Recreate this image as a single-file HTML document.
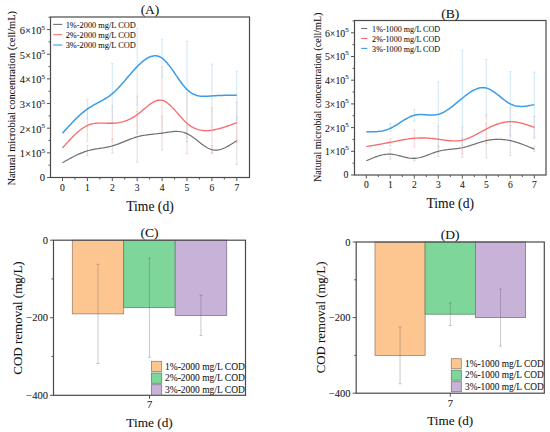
<!DOCTYPE html>
<html><head><meta charset="utf-8"><style>
html,body{margin:0;padding:0;background:#fff;width:550px;height:432px;overflow:hidden}
svg{display:block;font-family:'Liberation Serif',serif} text{stroke:#111;stroke-width:0.08px}
</style></head><body>
<svg width="550" height="432" viewBox="0 0 550 432">
<path d="M87.40,145.45V156.05M86.20,145.45h2.4M86.20,156.05h2.4" stroke="#cfcfcf" stroke-width="0.7" fill="none"/>
<path d="M112.30,138.55V153.10M111.10,138.55h2.4M111.10,153.10h2.4" stroke="#cfcfcf" stroke-width="0.7" fill="none"/>
<path d="M137.20,111.44V162.22M136.00,111.44h2.4M136.00,162.22h2.4" stroke="#cfcfcf" stroke-width="0.7" fill="none"/>
<path d="M162.10,116.37V149.89M160.90,116.37h2.4M160.90,149.89h2.4" stroke="#cfcfcf" stroke-width="0.7" fill="none"/>
<path d="M187.00,125.73V141.51M185.80,125.73h2.4M185.80,141.51h2.4" stroke="#cfcfcf" stroke-width="0.7" fill="none"/>
<path d="M211.90,145.45V153.84M210.70,145.45h2.4M210.70,153.84h2.4" stroke="#cfcfcf" stroke-width="0.7" fill="none"/>
<path d="M236.80,116.61V164.44M235.60,116.61h2.4M235.60,164.44h2.4" stroke="#cfcfcf" stroke-width="0.7" fill="none"/>
<path d="M87.40,109.71V141.26M86.20,109.71h2.4M86.20,141.26h2.4" stroke="#f9c0c0" stroke-width="0.7" fill="none"/>
<path d="M112.30,106.02V140.53M111.10,106.02h2.4M111.10,140.53h2.4" stroke="#f9c0c0" stroke-width="0.7" fill="none"/>
<path d="M137.20,96.16V133.13M136.00,96.16h2.4M136.00,133.13h2.4" stroke="#f9c0c0" stroke-width="0.7" fill="none"/>
<path d="M162.10,66.82V133.87M160.90,66.82h2.4M160.90,133.87h2.4" stroke="#f9c0c0" stroke-width="0.7" fill="none"/>
<path d="M187.00,92.95V153.59M185.80,92.95h2.4M185.80,153.59h2.4" stroke="#f9c0c0" stroke-width="0.7" fill="none"/>
<path d="M211.90,107.74V152.60M210.70,107.74h2.4M210.70,152.60h2.4" stroke="#f9c0c0" stroke-width="0.7" fill="none"/>
<path d="M236.80,102.32V142.74M235.60,102.32h2.4M235.60,142.74h2.4" stroke="#f9c0c0" stroke-width="0.7" fill="none"/>
<path d="M87.40,99.11V118.59M86.20,99.11h2.4M86.20,118.59h2.4" stroke="#bcdcf7" stroke-width="0.7" fill="none"/>
<path d="M112.30,63.37V122.53M111.10,63.37h2.4M111.10,122.53h2.4" stroke="#bcdcf7" stroke-width="0.7" fill="none"/>
<path d="M137.20,28.37V104.78M136.00,28.37h2.4M136.00,104.78h2.4" stroke="#bcdcf7" stroke-width="0.7" fill="none"/>
<path d="M162.10,39.21V76.93M160.90,39.21h2.4M160.90,76.93h2.4" stroke="#bcdcf7" stroke-width="0.7" fill="none"/>
<path d="M187.00,41.19V137.81M185.80,41.19h2.4M185.80,137.81h2.4" stroke="#bcdcf7" stroke-width="0.7" fill="none"/>
<path d="M211.90,64.11V127.71M210.70,64.11h2.4M210.70,127.71h2.4" stroke="#bcdcf7" stroke-width="0.7" fill="none"/>
<path d="M236.80,71.26V119.08M235.60,71.26h2.4M235.60,119.08h2.4" stroke="#bcdcf7" stroke-width="0.7" fill="none"/>
<path d="M62.50,162.71 L63.74,162.01 L64.99,161.30 L66.23,160.60 L67.48,159.91 L68.72,159.22 L69.97,158.54 L71.22,157.87 L72.46,157.22 L73.70,156.57 L74.95,155.95 L76.20,155.33 L77.44,154.74 L78.69,154.17 L79.93,153.62 L81.18,153.09 L82.42,152.59 L83.67,152.12 L84.91,151.67 L86.16,151.26 L87.40,150.88 L88.65,150.53 L89.89,150.21 L91.14,149.92 L92.38,149.65 L93.62,149.41 L94.87,149.18 L96.12,148.96 L97.36,148.76 L98.61,148.56 L99.85,148.37 L101.09,148.18 L102.34,147.99 L103.59,147.79 L104.83,147.58 L106.08,147.36 L107.32,147.12 L108.56,146.86 L109.81,146.58 L111.06,146.28 L112.30,145.95 L113.55,145.58 L114.79,145.19 L116.03,144.77 L117.28,144.33 L118.52,143.87 L119.77,143.39 L121.02,142.90 L122.26,142.40 L123.50,141.90 L124.75,141.39 L125.99,140.88 L127.24,140.37 L128.48,139.87 L129.73,139.38 L130.97,138.91 L132.22,138.45 L133.47,138.00 L134.71,137.59 L135.95,137.19 L137.20,136.83 L138.44,136.49 L139.69,136.19 L140.94,135.91 L142.18,135.66 L143.42,135.44 L144.67,135.23 L145.91,135.04 L147.16,134.86 L148.41,134.70 L149.65,134.55 L150.89,134.41 L152.14,134.28 L153.38,134.14 L154.63,134.01 L155.88,133.88 L157.12,133.75 L158.37,133.61 L159.61,133.46 L160.85,133.30 L162.10,133.13 L163.34,132.94 L164.59,132.75 L165.84,132.55 L167.08,132.35 L168.32,132.16 L169.57,131.98 L170.81,131.81 L172.06,131.67 L173.31,131.56 L174.55,131.47 L175.79,131.43 L177.04,131.43 L178.28,131.48 L179.53,131.58 L180.78,131.74 L182.02,131.97 L183.26,132.26 L184.51,132.63 L185.75,133.08 L187.00,133.62 L188.25,134.25 L189.49,134.96 L190.73,135.74 L191.98,136.57 L193.22,137.46 L194.47,138.39 L195.72,139.34 L196.96,140.32 L198.20,141.30 L199.45,142.28 L200.69,143.25 L201.94,144.19 L203.18,145.10 L204.43,145.96 L205.67,146.78 L206.92,147.52 L208.16,148.19 L209.41,148.78 L210.65,149.26 L211.90,149.65 L213.21,149.92 L214.52,150.08 L215.83,150.12 L217.14,150.05 L218.45,149.87 L219.76,149.61 L221.07,149.25 L222.38,148.81 L223.69,148.30 L225.01,147.71 L226.32,147.07 L227.63,146.37 L228.94,145.62 L230.25,144.84 L231.56,144.02 L232.87,143.17 L234.18,142.30 L235.49,141.41 L236.80,140.52" stroke="#707070" stroke-width="1.2" fill="none" stroke-linejoin="round"/>
<path d="M62.50,147.92 L63.74,146.52 L64.99,145.13 L66.23,143.74 L67.48,142.37 L68.72,141.01 L69.97,139.67 L71.22,138.36 L72.46,137.08 L73.70,135.83 L74.95,134.62 L76.20,133.45 L77.44,132.33 L78.69,131.25 L79.93,130.23 L81.18,129.27 L82.42,128.37 L83.67,127.54 L84.91,126.78 L86.16,126.10 L87.40,125.49 L88.65,124.96 L89.89,124.52 L91.14,124.14 L92.38,123.83 L93.62,123.58 L94.87,123.39 L96.12,123.25 L97.36,123.15 L98.61,123.08 L99.85,123.05 L101.09,123.05 L102.34,123.07 L103.59,123.10 L104.83,123.14 L106.08,123.18 L107.32,123.23 L108.56,123.26 L109.81,123.29 L111.06,123.29 L112.30,123.27 L113.55,123.22 L114.79,123.14 L116.03,123.02 L117.28,122.87 L118.52,122.69 L119.77,122.46 L121.02,122.20 L122.26,121.90 L123.50,121.56 L124.75,121.17 L125.99,120.74 L127.24,120.26 L128.48,119.74 L129.73,119.17 L130.97,118.55 L132.22,117.88 L133.47,117.15 L134.71,116.37 L135.95,115.53 L137.20,114.64 L138.44,113.69 L139.69,112.70 L140.94,111.67 L142.18,110.62 L143.42,109.56 L144.67,108.49 L145.91,107.44 L147.16,106.42 L148.41,105.43 L149.65,104.49 L150.89,103.61 L152.14,102.80 L153.38,102.08 L154.63,101.45 L155.88,100.93 L157.12,100.53 L158.37,100.25 L159.61,100.13 L160.85,100.15 L162.10,100.35 L163.34,100.71 L164.59,101.24 L165.84,101.93 L167.08,102.75 L168.32,103.69 L169.57,104.74 L170.81,105.89 L172.06,107.12 L173.31,108.42 L174.55,109.78 L175.79,111.17 L177.04,112.59 L178.28,114.02 L179.53,115.46 L180.78,116.88 L182.02,118.27 L183.26,119.61 L184.51,120.91 L185.75,122.13 L187.00,123.27 L188.25,124.32 L189.49,125.27 L190.73,126.13 L191.98,126.90 L193.22,127.59 L194.47,128.20 L195.72,128.74 L196.96,129.20 L198.20,129.58 L199.45,129.91 L200.69,130.16 L201.94,130.36 L203.18,130.50 L204.43,130.59 L205.67,130.63 L206.92,130.62 L208.16,130.56 L209.41,130.47 L210.65,130.34 L211.90,130.17 L213.21,129.97 L214.52,129.73 L215.83,129.46 L217.14,129.16 L218.45,128.84 L219.76,128.49 L221.07,128.12 L222.38,127.73 L223.69,127.32 L225.01,126.89 L226.32,126.45 L227.63,125.99 L228.94,125.52 L230.25,125.04 L231.56,124.55 L232.87,124.05 L234.18,123.54 L235.49,123.04 L236.80,122.53" stroke="#f76d6d" stroke-width="1.35" fill="none" stroke-linejoin="round"/>
<path d="M62.50,133.13 L63.74,131.75 L64.99,130.38 L66.23,129.02 L67.48,127.66 L68.72,126.31 L69.97,124.97 L71.22,123.65 L72.46,122.34 L73.70,121.06 L74.95,119.79 L76.20,118.56 L77.44,117.35 L78.69,116.17 L79.93,115.02 L81.18,113.91 L82.42,112.84 L83.67,111.81 L84.91,110.82 L86.16,109.87 L87.40,108.97 L88.65,108.12 L89.89,107.32 L91.14,106.55 L92.38,105.82 L93.62,105.11 L94.87,104.43 L96.12,103.76 L97.36,103.10 L98.61,102.44 L99.85,101.77 L101.09,101.10 L102.34,100.42 L103.59,99.71 L104.83,98.98 L106.08,98.21 L107.32,97.41 L108.56,96.56 L109.81,95.66 L111.06,94.71 L112.30,93.69 L113.55,92.61 L114.79,91.46 L116.03,90.26 L117.28,89.01 L118.52,87.71 L119.77,86.37 L121.02,85.00 L122.26,83.60 L123.50,82.17 L124.75,80.73 L125.99,79.27 L127.24,77.81 L128.48,76.35 L129.73,74.90 L130.97,73.45 L132.22,72.02 L133.47,70.61 L134.71,69.23 L135.95,67.88 L137.20,66.58 L138.44,65.31 L139.69,64.10 L140.94,62.94 L142.18,61.84 L143.42,60.82 L144.67,59.87 L145.91,59.01 L147.16,58.23 L148.41,57.55 L149.65,56.97 L150.89,56.50 L152.14,56.14 L153.38,55.91 L154.63,55.80 L155.88,55.83 L157.12,56.00 L158.37,56.31 L159.61,56.78 L160.85,57.40 L162.10,58.19 L163.34,59.15 L164.59,60.27 L165.84,61.53 L167.08,62.92 L168.32,64.41 L169.57,66.00 L170.81,67.67 L172.06,69.40 L173.31,71.18 L174.55,73.00 L175.79,74.83 L177.04,76.66 L178.28,78.48 L179.53,80.26 L180.78,82.01 L182.02,83.69 L183.26,85.30 L184.51,86.81 L185.75,88.22 L187.00,89.50 L188.25,90.65 L189.49,91.67 L190.73,92.56 L191.98,93.34 L193.22,94.01 L194.47,94.57 L195.72,95.05 L196.96,95.43 L198.20,95.74 L199.45,95.97 L200.69,96.14 L201.94,96.25 L203.18,96.30 L204.43,96.32 L205.67,96.30 L206.92,96.25 L208.16,96.18 L209.41,96.09 L210.65,96.00 L211.90,95.91 L213.21,95.82 L214.52,95.74 L215.83,95.66 L217.14,95.60 L218.45,95.54 L219.76,95.49 L221.07,95.44 L222.38,95.40 L223.69,95.36 L225.01,95.33 L226.32,95.30 L227.63,95.28 L228.94,95.25 L230.25,95.24 L231.56,95.22 L232.87,95.21 L234.18,95.19 L235.49,95.18 L236.80,95.17" stroke="#3d9ce8" stroke-width="1.5" fill="none" stroke-linejoin="round"/>
<rect x="50.5" y="17" width="199.0" height="160.5" fill="none" stroke="#4a4a4a" stroke-width="1.2"/>
<path d="M62.50,177.5v3.5M74.95,177.5v2M87.40,177.5v3.5M99.85,177.5v2M112.30,177.5v3.5M124.75,177.5v2M137.20,177.5v3.5M149.65,177.5v2M162.10,177.5v3.5M174.55,177.5v2M187.00,177.5v3.5M199.45,177.5v2M211.90,177.5v3.5M224.35,177.5v2M236.80,177.5v3.5M50.5,177.50h-3.5M50.5,165.18h-2M50.5,152.85h-3.5M50.5,140.53h-2M50.5,128.20h-3.5M50.5,115.88h-2M50.5,103.55h-3.5M50.5,91.23h-2M50.5,78.90h-3.5M50.5,66.58h-2M50.5,54.25h-3.5M50.5,41.93h-2M50.5,29.60h-3.5M50.5,17.28h-2" stroke="#555" stroke-width="1.0" fill="none"/>
<text x="62.50" y="190.8" font-size="9.6" text-anchor="middle" fill="#222">0</text>
<text x="87.40" y="190.8" font-size="9.6" text-anchor="middle" fill="#222">1</text>
<text x="112.30" y="190.8" font-size="9.6" text-anchor="middle" fill="#222">2</text>
<text x="137.20" y="190.8" font-size="9.6" text-anchor="middle" fill="#222">3</text>
<text x="162.10" y="190.8" font-size="9.6" text-anchor="middle" fill="#222">4</text>
<text x="187.00" y="190.8" font-size="9.6" text-anchor="middle" fill="#222">5</text>
<text x="211.90" y="190.8" font-size="9.6" text-anchor="middle" fill="#222">6</text>
<text x="236.80" y="190.8" font-size="9.6" text-anchor="middle" fill="#222">7</text>
<text x="44.9" y="180.80" font-size="10.5" text-anchor="end" fill="#222">0</text>
<text x="45" y="157.35" font-size="10.5" text-anchor="end" fill="#222">1×10<tspan font-size="7" dy="-4.3">5</tspan></text>
<text x="45" y="132.70" font-size="10.5" text-anchor="end" fill="#222">2×10<tspan font-size="7" dy="-4.3">5</tspan></text>
<text x="45" y="108.05" font-size="10.5" text-anchor="end" fill="#222">3×10<tspan font-size="7" dy="-4.3">5</tspan></text>
<text x="45" y="83.40" font-size="10.5" text-anchor="end" fill="#222">4×10<tspan font-size="7" dy="-4.3">5</tspan></text>
<text x="45" y="58.75" font-size="10.5" text-anchor="end" fill="#222">5×10<tspan font-size="7" dy="-4.3">5</tspan></text>
<text x="45" y="34.10" font-size="10.5" text-anchor="end" fill="#222">6×10<tspan font-size="7" dy="-4.3">5</tspan></text>
<text x="150.00" y="210.7" font-size="13.6" text-anchor="middle" fill="#111">Time (d)</text>
<text transform="translate(14.6,98.3) rotate(-90)" font-size="10.4" text-anchor="middle" fill="#111">Natural microbial concentration (cell/mL)</text>
<text x="150.00" y="14.1" font-size="13.5" text-anchor="middle" fill="#111">(A)</text>
<path d="M53.2,24.40H62.3" stroke="#707070" stroke-width="1.1"/>
<text x="65.7" y="27.66" font-size="8.35" fill="#222">1%-2000 mg/L COD</text>
<path d="M53.2,34.70H62.3" stroke="#f76d6d" stroke-width="1.1"/>
<text x="65.7" y="37.96" font-size="8.35" fill="#222">2%-2000 mg/L COD</text>
<path d="M53.2,45.00H62.3" stroke="#3d9ce8" stroke-width="1.1"/>
<text x="65.7" y="48.26" font-size="8.35" fill="#222">3%-2000 mg/L COD</text>
<path d="M390.30,149.40V159.12M389.10,149.40h2.4M389.10,159.12h2.4" stroke="#cfcfcf" stroke-width="0.7" fill="none"/>
<path d="M414.30,157.46V160.78M413.10,157.46h2.4M413.10,160.78h2.4" stroke="#cfcfcf" stroke-width="0.7" fill="none"/>
<path d="M438.30,146.09V156.51M437.10,146.09h2.4M437.10,156.51h2.4" stroke="#cfcfcf" stroke-width="0.7" fill="none"/>
<path d="M462.30,138.26V157.22M461.10,138.26h2.4M461.10,157.22h2.4" stroke="#cfcfcf" stroke-width="0.7" fill="none"/>
<path d="M486.30,123.57V157.70M485.10,123.57h2.4M485.10,157.70h2.4" stroke="#cfcfcf" stroke-width="0.7" fill="none"/>
<path d="M510.30,125.70V155.57M509.10,125.70h2.4M509.10,155.57h2.4" stroke="#cfcfcf" stroke-width="0.7" fill="none"/>
<path d="M534.30,146.80V151.30M533.10,146.80h2.4M533.10,151.30h2.4" stroke="#cfcfcf" stroke-width="0.7" fill="none"/>
<path d="M390.30,138.98V145.85M389.10,138.98h2.4M389.10,145.85h2.4" stroke="#f9c0c0" stroke-width="0.7" fill="none"/>
<path d="M414.30,129.97V147.03M413.10,129.97h2.4M413.10,147.03h2.4" stroke="#f9c0c0" stroke-width="0.7" fill="none"/>
<path d="M438.30,126.65V151.77M437.10,126.65h2.4M437.10,151.77h2.4" stroke="#f9c0c0" stroke-width="0.7" fill="none"/>
<path d="M462.30,126.89V153.43M461.10,126.89h2.4M461.10,153.43h2.4" stroke="#f9c0c0" stroke-width="0.7" fill="none"/>
<path d="M486.30,114.56V143.48M485.10,114.56h2.4M485.10,143.48h2.4" stroke="#f9c0c0" stroke-width="0.7" fill="none"/>
<path d="M510.30,108.17V135.18M509.10,108.17h2.4M509.10,135.18h2.4" stroke="#f9c0c0" stroke-width="0.7" fill="none"/>
<path d="M534.30,116.46V138.26M533.10,116.46h2.4M533.10,138.26h2.4" stroke="#f9c0c0" stroke-width="0.7" fill="none"/>
<path d="M390.30,123.57V131.39M389.10,123.57h2.4M389.10,131.39h2.4" stroke="#bcdcf7" stroke-width="0.7" fill="none"/>
<path d="M414.30,109.35V121.20M413.10,109.35h2.4M413.10,121.20h2.4" stroke="#bcdcf7" stroke-width="0.7" fill="none"/>
<path d="M438.30,82.10V146.56M437.10,82.10h2.4M437.10,146.56h2.4" stroke="#bcdcf7" stroke-width="0.7" fill="none"/>
<path d="M462.30,50.58V145.85M461.10,50.58h2.4M461.10,145.85h2.4" stroke="#bcdcf7" stroke-width="0.7" fill="none"/>
<path d="M486.30,59.34V116.70M485.10,59.34h2.4M485.10,116.70h2.4" stroke="#bcdcf7" stroke-width="0.7" fill="none"/>
<path d="M510.30,71.67V136.13M509.10,71.67h2.4M509.10,136.13h2.4" stroke="#bcdcf7" stroke-width="0.7" fill="none"/>
<path d="M534.30,72.14V137.08M533.10,72.14h2.4M533.10,137.08h2.4" stroke="#bcdcf7" stroke-width="0.7" fill="none"/>
<path d="M366.30,160.78 L367.50,160.26 L368.70,159.74 L369.90,159.22 L371.10,158.72 L372.30,158.22 L373.50,157.74 L374.70,157.28 L375.90,156.84 L377.10,156.42 L378.30,156.03 L379.50,155.66 L380.70,155.33 L381.90,155.03 L383.10,154.77 L384.30,154.55 L385.50,154.37 L386.70,154.24 L387.90,154.15 L389.10,154.12 L390.30,154.14 L391.50,154.22 L392.70,154.35 L393.90,154.53 L395.10,154.74 L396.30,154.99 L397.50,155.26 L398.70,155.56 L399.90,155.87 L401.10,156.18 L402.30,156.50 L403.50,156.81 L404.70,157.12 L405.90,157.40 L407.10,157.66 L408.30,157.90 L409.50,158.10 L410.70,158.25 L411.90,158.36 L413.10,158.42 L414.30,158.41 L415.50,158.34 L416.70,158.21 L417.90,158.02 L419.10,157.78 L420.30,157.50 L421.50,157.18 L422.70,156.82 L423.90,156.43 L425.10,156.01 L426.30,155.58 L427.50,155.13 L428.70,154.67 L429.90,154.21 L431.10,153.75 L432.30,153.30 L433.50,152.85 L434.70,152.43 L435.90,152.02 L437.10,151.65 L438.30,151.30 L439.50,150.99 L440.70,150.71 L441.90,150.47 L443.10,150.25 L444.30,150.06 L445.50,149.88 L446.70,149.73 L447.90,149.59 L449.10,149.45 L450.30,149.33 L451.50,149.21 L452.70,149.09 L453.90,148.97 L455.10,148.84 L456.30,148.70 L457.50,148.55 L458.70,148.38 L459.90,148.19 L461.10,147.98 L462.30,147.75 L463.50,147.48 L464.70,147.19 L465.90,146.87 L467.10,146.54 L468.30,146.18 L469.50,145.81 L470.70,145.43 L471.90,145.04 L473.10,144.64 L474.30,144.24 L475.50,143.83 L476.70,143.43 L477.90,143.03 L479.10,142.65 L480.30,142.27 L481.50,141.90 L482.70,141.55 L483.90,141.22 L485.10,140.92 L486.30,140.63 L487.50,140.38 L488.70,140.15 L489.90,139.95 L491.10,139.78 L492.30,139.64 L493.50,139.52 L494.70,139.43 L495.90,139.36 L497.10,139.32 L498.30,139.31 L499.50,139.33 L500.70,139.37 L501.90,139.44 L503.10,139.53 L504.30,139.65 L505.50,139.80 L506.70,139.97 L507.90,140.17 L509.10,140.39 L510.30,140.63 L511.56,140.92 L512.83,141.24 L514.09,141.57 L515.35,141.93 L516.62,142.32 L517.88,142.72 L519.14,143.14 L520.41,143.58 L521.67,144.04 L522.93,144.51 L524.19,145.00 L525.46,145.49 L526.72,146.00 L527.98,146.51 L529.25,147.03 L530.51,147.56 L531.77,148.10 L533.04,148.63 L534.30,149.17" stroke="#707070" stroke-width="1.2" fill="none" stroke-linejoin="round"/>
<path d="M366.30,146.56 L367.50,146.36 L368.70,146.16 L369.90,145.95 L371.10,145.75 L372.30,145.55 L373.50,145.34 L374.70,145.14 L375.90,144.93 L377.10,144.72 L378.30,144.51 L379.50,144.30 L380.70,144.09 L381.90,143.87 L383.10,143.66 L384.30,143.44 L385.50,143.21 L386.70,142.99 L387.90,142.76 L389.10,142.53 L390.30,142.29 L391.50,142.06 L392.70,141.82 L393.90,141.57 L395.10,141.33 L396.30,141.09 L397.50,140.85 L398.70,140.61 L399.90,140.38 L401.10,140.15 L402.30,139.93 L403.50,139.72 L404.70,139.51 L405.90,139.31 L407.10,139.12 L408.30,138.95 L409.50,138.78 L410.70,138.63 L411.90,138.49 L413.10,138.37 L414.30,138.26 L415.50,138.18 L416.70,138.11 L417.90,138.05 L419.10,138.01 L420.30,137.99 L421.50,137.98 L422.70,137.99 L423.90,138.01 L425.10,138.04 L426.30,138.09 L427.50,138.15 L428.70,138.23 L429.90,138.31 L431.10,138.41 L432.30,138.52 L433.50,138.64 L434.70,138.77 L435.90,138.91 L437.10,139.06 L438.30,139.21 L439.50,139.38 L440.70,139.55 L441.90,139.72 L443.10,139.90 L444.30,140.07 L445.50,140.23 L446.70,140.38 L447.90,140.53 L449.10,140.65 L450.30,140.76 L451.50,140.85 L452.70,140.91 L453.90,140.94 L455.10,140.95 L456.30,140.92 L457.50,140.85 L458.70,140.74 L459.90,140.60 L461.10,140.40 L462.30,140.16 L463.50,139.87 L464.70,139.53 L465.90,139.14 L467.10,138.72 L468.30,138.25 L469.50,137.75 L470.70,137.22 L471.90,136.67 L473.10,136.08 L474.30,135.48 L475.50,134.86 L476.70,134.22 L477.90,133.58 L479.10,132.92 L480.30,132.26 L481.50,131.60 L482.70,130.95 L483.90,130.29 L485.10,129.65 L486.30,129.02 L487.50,128.41 L488.70,127.81 L489.90,127.23 L491.10,126.67 L492.30,126.14 L493.50,125.62 L494.70,125.13 L495.90,124.67 L497.10,124.24 L498.30,123.83 L499.50,123.45 L500.70,123.11 L501.90,122.80 L503.10,122.52 L504.30,122.28 L505.50,122.08 L506.70,121.92 L507.90,121.79 L509.10,121.71 L510.30,121.68 L511.56,121.68 L512.83,121.74 L514.09,121.84 L515.35,121.98 L516.62,122.16 L517.88,122.38 L519.14,122.63 L520.41,122.92 L521.67,123.23 L522.93,123.57 L524.19,123.93 L525.46,124.31 L526.72,124.72 L527.98,125.13 L529.25,125.56 L530.51,126.00 L531.77,126.45 L533.04,126.91 L534.30,127.36" stroke="#f76d6d" stroke-width="1.35" fill="none" stroke-linejoin="round"/>
<path d="M366.30,131.87 L367.50,131.87 L368.70,131.88 L369.90,131.87 L371.10,131.86 L372.30,131.84 L373.50,131.81 L374.70,131.75 L375.90,131.68 L377.10,131.59 L378.30,131.47 L379.50,131.33 L380.70,131.15 L381.90,130.94 L383.10,130.69 L384.30,130.41 L385.50,130.08 L386.70,129.71 L387.90,129.30 L389.10,128.83 L390.30,128.31 L391.50,127.74 L392.70,127.12 L393.90,126.45 L395.10,125.75 L396.30,125.03 L397.50,124.28 L398.70,123.51 L399.90,122.74 L401.10,121.97 L402.30,121.20 L403.50,120.44 L404.70,119.70 L405.90,118.99 L407.10,118.31 L408.30,117.67 L409.50,117.07 L410.70,116.53 L411.90,116.04 L413.10,115.62 L414.30,115.28 L415.50,115.01 L416.70,114.81 L417.90,114.67 L419.10,114.59 L420.30,114.56 L421.50,114.56 L422.70,114.60 L423.90,114.66 L425.10,114.74 L426.30,114.82 L427.50,114.91 L428.70,114.98 L429.90,115.04 L431.10,115.08 L432.30,115.08 L433.50,115.04 L434.70,114.95 L435.90,114.81 L437.10,114.61 L438.30,114.33 L439.50,113.97 L440.70,113.54 L441.90,113.04 L443.10,112.47 L444.30,111.84 L445.50,111.16 L446.70,110.42 L447.90,109.63 L449.10,108.80 L450.30,107.94 L451.50,107.04 L452.70,106.11 L453.90,105.16 L455.10,104.19 L456.30,103.20 L457.50,102.20 L458.70,101.20 L459.90,100.20 L461.10,99.20 L462.30,98.21 L463.50,97.24 L464.70,96.28 L465.90,95.34 L467.10,94.44 L468.30,93.56 L469.50,92.73 L470.70,91.94 L471.90,91.20 L473.10,90.51 L474.30,89.89 L475.50,89.33 L476.70,88.83 L477.90,88.42 L479.10,88.08 L480.30,87.83 L481.50,87.66 L482.70,87.60 L483.90,87.63 L485.10,87.77 L486.30,88.02 L487.50,88.38 L488.70,88.85 L489.90,89.42 L491.10,90.07 L492.30,90.80 L493.50,91.59 L494.70,92.44 L495.90,93.33 L497.10,94.26 L498.30,95.21 L499.50,96.18 L500.70,97.15 L501.90,98.12 L503.10,99.07 L504.30,100.00 L505.50,100.89 L506.70,101.74 L507.90,102.53 L509.10,103.25 L510.30,103.90 L511.56,104.49 L512.83,105.00 L514.09,105.41 L515.35,105.75 L516.62,106.01 L517.88,106.21 L519.14,106.34 L520.41,106.40 L521.67,106.41 L522.93,106.38 L524.19,106.29 L525.46,106.17 L526.72,106.01 L527.98,105.83 L529.25,105.61 L530.51,105.38 L531.77,105.13 L533.04,104.87 L534.30,104.61" stroke="#3d9ce8" stroke-width="1.5" fill="none" stroke-linejoin="round"/>
<rect x="354.5" y="20.5" width="191.5" height="154.5" fill="none" stroke="#4a4a4a" stroke-width="1.2"/>
<path d="M366.30,175v3.5M378.30,175v2M390.30,175v3.5M402.30,175v2M414.30,175v3.5M426.30,175v2M438.30,175v3.5M450.30,175v2M462.30,175v3.5M474.30,175v2M486.30,175v3.5M498.30,175v2M510.30,175v3.5M522.30,175v2M534.30,175v3.5M354.5,175.00h-3.5M354.5,163.15h-2M354.5,151.30h-3.5M354.5,139.45h-2M354.5,127.60h-3.5M354.5,115.75h-2M354.5,103.90h-3.5M354.5,92.05h-2M354.5,80.20h-3.5M354.5,68.35h-2M354.5,56.50h-3.5M354.5,44.65h-2M354.5,32.80h-3.5M354.5,20.95h-2" stroke="#555" stroke-width="1.0" fill="none"/>
<text x="366.30" y="188" font-size="9.6" text-anchor="middle" fill="#222">0</text>
<text x="390.30" y="188" font-size="9.6" text-anchor="middle" fill="#222">1</text>
<text x="414.30" y="188" font-size="9.6" text-anchor="middle" fill="#222">2</text>
<text x="438.30" y="188" font-size="9.6" text-anchor="middle" fill="#222">3</text>
<text x="462.30" y="188" font-size="9.6" text-anchor="middle" fill="#222">4</text>
<text x="486.30" y="188" font-size="9.6" text-anchor="middle" fill="#222">5</text>
<text x="510.30" y="188" font-size="9.6" text-anchor="middle" fill="#222">6</text>
<text x="534.30" y="188" font-size="9.6" text-anchor="middle" fill="#222">7</text>
<text x="348.5" y="178.30" font-size="9.8" text-anchor="end" fill="#222">0</text>
<text x="348.7" y="155.20" font-size="9.8" text-anchor="end" fill="#222">1×10<tspan font-size="7" dy="-5.0">5</tspan></text>
<text x="348.7" y="131.50" font-size="9.8" text-anchor="end" fill="#222">2×10<tspan font-size="7" dy="-5.0">5</tspan></text>
<text x="348.7" y="107.80" font-size="9.8" text-anchor="end" fill="#222">3×10<tspan font-size="7" dy="-5.0">5</tspan></text>
<text x="348.7" y="84.10" font-size="9.8" text-anchor="end" fill="#222">4×10<tspan font-size="7" dy="-5.0">5</tspan></text>
<text x="348.7" y="60.40" font-size="9.8" text-anchor="end" fill="#222">5×10<tspan font-size="7" dy="-5.0">5</tspan></text>
<text x="348.7" y="36.70" font-size="9.8" text-anchor="end" fill="#222">6×10<tspan font-size="7" dy="-5.0">5</tspan></text>
<text x="450.25" y="207.7" font-size="13.6" text-anchor="middle" fill="#111">Time (d)</text>
<text transform="translate(321,97.3) rotate(-90)" font-size="10.1" text-anchor="middle" fill="#111">Natural microbial concentration (cell/mL)</text>
<text x="450.25" y="17.5" font-size="13.5" text-anchor="middle" fill="#111">(B)</text>
<path d="M361.2,28.50H367.3" stroke="#707070" stroke-width="1.1"/>
<text x="372.1" y="31.66" font-size="8.1" fill="#222">1%-1000 mg/L COD</text>
<path d="M361.2,38.45H367.3" stroke="#f76d6d" stroke-width="1.1"/>
<text x="372.1" y="41.61" font-size="8.1" fill="#222">2%-1000 mg/L COD</text>
<path d="M361.2,48.40H367.3" stroke="#3d9ce8" stroke-width="1.1"/>
<text x="372.1" y="51.56" font-size="8.1" fill="#222">3%-1000 mg/L COD</text>
<rect x="72.3" y="240.2" width="51.400000000000006" height="73.67" fill="#fdc690" stroke="#9a8070" stroke-width="0.8"/>
<rect x="123.7" y="240.2" width="51.499999999999986" height="67.47" fill="#7ed69b" stroke="#5a8a6a" stroke-width="0.8"/>
<rect x="175.2" y="240.2" width="51.5" height="75.22" fill="#c8b2d8" stroke="#807090" stroke-width="0.8"/>
<path d="M98.00,264.24V363.50M96.50,264.24h3M96.50,363.50h3" stroke="#555" stroke-opacity="0.35" stroke-width="0.9" fill="none"/>
<path d="M149.45,258.04V357.30M147.95,258.04h3M147.95,357.30h3" stroke="#555" stroke-opacity="0.35" stroke-width="0.9" fill="none"/>
<path d="M200.95,295.26V335.59M199.45,295.26h3M199.45,335.59h3" stroke="#555" stroke-opacity="0.35" stroke-width="0.9" fill="none"/>
<rect x="53.5" y="240.2" width="192.0" height="155.10000000000002" fill="none" stroke="#4a4a4a" stroke-width="1.2"/>
<path d="M149.50,395.3v3.5M53.5,240.20h-3.5M53.5,317.75h-3.5M53.5,395.30h-3.5M53.5,278.98h-2M53.5,356.52h-2" stroke="#555" stroke-width="1.0" fill="none"/>
<text x="149.50" y="408.0" font-size="10.5" text-anchor="middle" fill="#222">7</text>
<text x="48" y="243.77" font-size="10.5" text-anchor="end" fill="#222">0</text>
<text x="48" y="321.32" font-size="10.5" text-anchor="end" fill="#222">−200</text>
<text x="48" y="398.87" font-size="10.5" text-anchor="end" fill="#222">−400</text>
<text x="149.50" y="427.4" font-size="13.3" text-anchor="middle" fill="#111">Time (d)</text>
<text transform="translate(22.2,318) rotate(-90)" font-size="13" text-anchor="middle" fill="#111">COD removal (mg/L)</text>
<text x="149.6" y="237.0" font-size="13.5" text-anchor="middle" fill="#111">(C)</text>
<rect x="151.4" y="361.30" width="10.3" height="10.3" fill="#fdc690" stroke="#9a8070" stroke-width="0.8"/>
<text x="165" y="369.68" font-size="9.5" fill="#222">1%-2000 mg/L COD</text>
<rect x="151.4" y="373.00" width="10.3" height="10.3" fill="#7ed69b" stroke="#5a8a6a" stroke-width="0.8"/>
<text x="165" y="381.38" font-size="9.5" fill="#222">2%-2000 mg/L COD</text>
<rect x="151.4" y="384.70" width="10.3" height="10.3" fill="#c8b2d8" stroke="#807090" stroke-width="0.8"/>
<text x="165" y="393.08" font-size="9.5" fill="#222">3%-2000 mg/L COD</text>
<rect x="375" y="242" width="50.10000000000002" height="113.40" fill="#fdc690" stroke="#9a8070" stroke-width="0.8"/>
<rect x="425.1" y="242" width="50.299999999999955" height="72.20" fill="#7ed69b" stroke="#5a8a6a" stroke-width="0.8"/>
<rect x="475.4" y="242" width="50.200000000000045" height="75.60" fill="#c8b2d8" stroke="#807090" stroke-width="0.8"/>
<path d="M400.05,327.05V383.75M398.55,327.05h3M398.55,383.75h3" stroke="#555" stroke-opacity="0.35" stroke-width="0.9" fill="none"/>
<path d="M450.25,302.86V325.54M448.75,302.86h3M448.75,325.54h3" stroke="#555" stroke-opacity="0.35" stroke-width="0.9" fill="none"/>
<path d="M500.50,289.06V346.14M499.00,289.06h3M499.00,346.14h3" stroke="#555" stroke-opacity="0.35" stroke-width="0.9" fill="none"/>
<rect x="356.2" y="242" width="188.09999999999997" height="151.2" fill="none" stroke="#4a4a4a" stroke-width="1.2"/>
<path d="M450.25,393.2v3.5M356.2,242.00h-3.5M356.2,317.60h-3.5M356.2,393.20h-3.5M356.2,279.80h-2M356.2,355.40h-2" stroke="#555" stroke-width="1.0" fill="none"/>
<text x="450.25" y="406.8" font-size="10.5" text-anchor="middle" fill="#222">7</text>
<text x="350.6" y="245.57" font-size="10.5" text-anchor="end" fill="#222">0</text>
<text x="350.6" y="321.17" font-size="10.5" text-anchor="end" fill="#222">−200</text>
<text x="350.6" y="396.77" font-size="10.5" text-anchor="end" fill="#222">−400</text>
<text x="450.25" y="424.6" font-size="13.2" text-anchor="middle" fill="#111">Time (d)</text>
<text transform="translate(325.2,317.4) rotate(-90)" font-size="12.8" text-anchor="middle" fill="#111">COD removal (mg/L)</text>
<text x="450.1" y="238.8" font-size="13.5" text-anchor="middle" fill="#111">(D)</text>
<rect x="451.3" y="358.70" width="10" height="10" fill="#fdc690" stroke="#9a8070" stroke-width="0.8"/>
<text x="465" y="366.90" font-size="9.4" fill="#222">1%-1000 mg/L COD</text>
<rect x="451.3" y="370.20" width="10" height="10" fill="#7ed69b" stroke="#5a8a6a" stroke-width="0.8"/>
<text x="465" y="378.40" font-size="9.4" fill="#222">2%-1000 mg/L COD</text>
<rect x="451.3" y="381.70" width="10" height="10" fill="#c8b2d8" stroke="#807090" stroke-width="0.8"/>
<text x="465" y="389.90" font-size="9.4" fill="#222">3%-1000 mg/L COD</text>
</svg></body></html>
